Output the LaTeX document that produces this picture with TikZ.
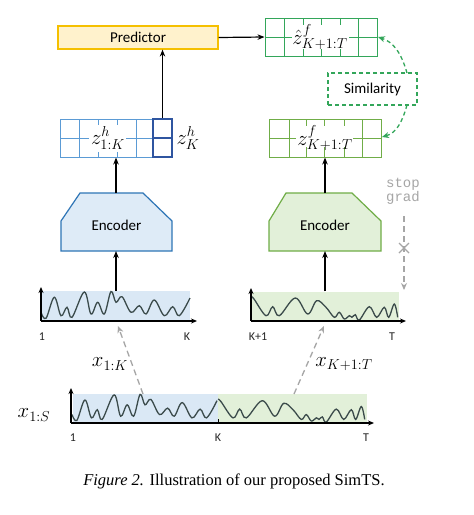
\documentclass[tikz,border=0pt]{standalone}
\usepackage{fontspec}
\setmainfont{Liberation Serif}
\newfontfamily\calib{Carlito}
\newfontfamily\monof{Liberation Mono}
\usetikzlibrary{arrows.meta}
\definecolor{predfill}{HTML}{FFF2CC}
\definecolor{preddraw}{HTML}{F5C000}
\definecolor{bluefill}{HTML}{DEEBF7}
\definecolor{bluedraw}{HTML}{2E75B6}
\definecolor{bluegrid}{HTML}{5B9BD5}
\definecolor{bluedark}{HTML}{2F55A0}
\definecolor{greenfill}{HTML}{E2F0D9}
\definecolor{greendraw}{HTML}{70AD47}
\definecolor{greenhat}{HTML}{33A65A}
\definecolor{panelblue}{HTML}{DAE8F5}
\definecolor{panelgreen}{HTML}{E2F0D9}
\definecolor{wavec}{HTML}{3B4B4B}
\definecolor{grayc}{HTML}{A6A6A6}
\begin{document}
\begin{tikzpicture}[x=1pt,y=-1pt,
  sanslbl/.style={font=\calib\fontsize{15}{18}\selectfont},
  mathlbl/.style={font=\fontsize{20}{24}\selectfont, inner sep=0pt},
  axlbl/.style={font=\calib\fontsize{12}{14}\selectfont, text=black!85, inner sep=0pt},
  arr/.style={-{Stealth[length=7pt,width=5.5pt]}, line width=1.2pt, black},
  grayarr/.style={dash pattern=on 6pt off 4pt, draw=grayc, line width=1.3pt, -{Stealth[length=7pt,width=6pt]}},
  simarr/.style={dash pattern=on 4pt off 3pt, draw=greenhat, line width=1.3pt, -{Stealth[length=7pt,width=6pt]}},
  wave/.style={draw=wavec, line width=1.3pt},
  axisarr/.style={line width=1.3pt, -{Stealth[length=6pt,width=5pt]}},
  whitepatch/.style={fill=white, draw=none},
]
\useasboundingbox (0,0) rectangle (474,515);
\fill[white] (0,0) rectangle (474,515);

% ---------- Predictor ----------
\node[draw=preddraw, fill=predfill, line width=1.2pt, minimum width=160pt, minimum height=23pt, inner sep=0pt, sanslbl] (pred) at (138,37.5) {Predictor};

% ---------- hat z^f grid ----------
\node[draw=greenhat, line width=1pt, minimum width=112pt, minimum height=38pt, inner sep=0pt] (zhat) at (321,37) {};
\foreach \x in {284,303,321,340,358} \draw[greenhat, line width=1pt] (\x,18) -- (\x,56);
\draw[greenhat, line width=1pt] (265,37) -- (377,37);
\fill[whitepatch] (292,25) rectangle (349,49);
\node[mathlbl] (zhatlbl) at (320,37) {$\hat{z}^{f}_{K+1:T}$};

% ---------- Similarity ----------
\node[draw=greenhat, dash pattern=on 4pt off 3pt, line width=1.2pt, minimum width=89pt, minimum height=32pt, inner sep=0pt, sanslbl] (sim) at (372.5,89) {Similarity};
\coordinate (simtop) at (407,73);
\coordinate (simbot) at (407,105);
\coordinate (zhatR) at (378,37);
\coordinate (zfR) at (382,137);
\draw[simarr] (simtop) .. controls (401,52) and (393,42) .. (zhatR);
\draw[simarr] (simbot) .. controls (402,123) and (396,133) .. (zfR);

% ---------- z^h grid ----------
\node[draw=bluegrid, line width=1pt, minimum width=93pt, minimum height=38pt, inner sep=0pt] (zh) at (106.5,138) {};
\foreach \x in {79,98,117,136} \draw[bluegrid, line width=1pt] (\x,119) -- (\x,157);
\draw[bluegrid, line width=1pt] (60,138) -- (153,138);
\fill[whitepatch] (89,125) rectangle (126,152);
\node[mathlbl] (zhlbl) at (108,138) {$z^{h}_{1:K}$};
\node[draw=bluedark, line width=2pt, minimum width=19pt, minimum height=38pt, inner sep=0pt] (zK) at (162.5,138) {};
\draw[bluedark, line width=2pt] (zK.west) -- (zK.east);
\node[mathlbl] (zKlbl) at (188,138) {$z^{h}_{K}$};

% ---------- z^f grid ----------
\node[draw=greendraw, line width=1pt, minimum width=112pt, minimum height=38pt, inner sep=0pt] (zf) at (325,138) {};
\foreach \x in {289,306,324,344,362} \draw[greendraw, line width=1pt] (\x,119) -- (\x,157);
\draw[greendraw, line width=1pt] (269,138) -- (381,138);
\fill[whitepatch] (296,126) rectangle (353,147);
\node[mathlbl] (zflbl) at (325,138) {$z^{f}_{K+1:T}$};

% ---------- Encoders ----------
\filldraw[fill=bluefill, draw=bluedraw, line width=1.2pt] (80,193) -- (143,193) -- (172,221) -- (172,251) -- (61,251) -- (61,221) -- cycle;
\node[sanslbl] (encA) at (116.5,225) {Encoder};
\coordinate (encAtop) at (116,193);
\coordinate (encAbot) at (116,251);
\filldraw[fill=greenfill, draw=greendraw, line width=1.2pt] (286,193) -- (352,193) -- (381,221) -- (381,251) -- (269,251) -- (269,221) -- cycle;
\node[sanslbl] (encB) at (325,225) {Encoder};
\coordinate (encBtop) at (325,193);
\coordinate (encBbot) at (325,251);

% ---------- panels ----------
\node[fill=panelblue, minimum width=148pt, minimum height=30pt, inner sep=0pt] (pB) at (116,306) {};
\node[fill=panelgreen, minimum width=148pt, minimum height=30pt, inner sep=0pt] (pG) at (325,306.5) {};
\node[fill=panelblue, minimum width=145pt, minimum height=29pt, inner sep=0pt] (pBB) at (145.5,408.5) {};
\node[fill=panelgreen, minimum width=149pt, minimum height=29pt, inner sep=0pt] (pBG) at (292.5,408.5) {};

% waves
\def\bluewave{(0,8.7) (5,2.7) (13.3,23.7) (20,5.3) (26,13.7) (31,3.7) (43.3,29) (50,7) (56.7,18.7) (63.3,7) (70,29.5) (75,18.7) (81,24.3) (90,8.7) (98.3,15.3) (105,7) (113.3,21) (123.3,5.3) (131.7,14.3) (138.3,5.3) (149,23)}
\def\greenwave{(0,24.5) (3,22) (15,5.3) (21.7,14.3) (28.3,5.3) (44.3,23) (56.7,7) (65.7,20.3) (75,13.7) (83.3,3.7) (88.3,8.7) (93.3,2) (98.3,5.3) (101,3.7) (104.3,6.3) (108.3,1) (118.3,14.3) (125.7,3.7) (133.3,13.7) (137.7,3.7) (143.3,17) (146.7,3.7)}
\begin{scope}[shift={(41,321)}, yscale=-1]
  \draw[wave] plot[smooth, tension=0.6] coordinates {\bluewave};
\end{scope}
\begin{scope}[shift={(251,321)}, yscale=-1]
  \draw[wave] plot[smooth, tension=0.6] coordinates {\greenwave};
\end{scope}
\begin{scope}[shift={(72,423)}, xscale=0.973, yscale=-0.97]
  \draw[wave] plot[smooth, tension=0.6] coordinates {\bluewave};
\end{scope}
\begin{scope}[shift={(218,423)}, yscale=-0.97]
  \draw[wave] plot[smooth, tension=0.6] coordinates {\greenwave};
\end{scope}

% axes
\coordinate (oB) at (41,321);
\coordinate (oG) at (251,321);
\coordinate (oBB) at (71,423);
\draw[axisarr] (oB) -- (41,287);
\draw[axisarr] (oB) -- (197,321);
\draw[axisarr] (oG) -- (251,288);
\draw[axisarr] (oG) -- (406,321);
\draw[axisarr] (oBB) -- (71,388);
\draw[axisarr] (oBB) -- (374,423);
\draw[line width=1pt] (218,419) -- (218,423);

% axis labels
\node[axlbl] (l1a) at (42,337) {1};
\node[axlbl] (lKa) at (187,337) {K};
\node[axlbl] (lK1) at (258,337) {K+1};
\node[axlbl] (lTa) at (392,337) {T};
\node[axlbl] (l1b) at (73,438) {1};
\node[axlbl] (lKb) at (218,438) {K};
\node[axlbl] (lTb) at (366,438) {T};

% math labels of series
\node[mathlbl] (x1K) at (110,364) {$x_{1:K}$};
\node[mathlbl] (xK1T) at (344,364) {$x_{K+1:T}$};
\node[mathlbl] (x1S) at (34,415) {$x_{1:S}$};

% ---------- connectors ----------
\draw[arr] (zK.north) -- (pred.south -| zK.north);
\draw[arr] (pred.east) -- (zhat.west);
\draw[arr] (encAtop) -- (encAtop |- zh.south);
\draw[arr] (encBtop) -- (encBtop |- zf.south);
\draw[arr] (pB.north -| encAbot) -- (encAbot);
\draw[arr] (pG.north -| encBbot) -- (encBbot);

\coordinate (gA) at (118,326);
\coordinate (gB) at (324,326);
\draw[grayarr] (143,394) -- (gA);
\draw[grayarr] (294,394) -- (gB);

% stop grad
\node[font=\monof\fontsize{14}{16}\selectfont, text=grayc, align=center, inner sep=0pt] (sg) at (403,191) {stop\\[-2pt]grad};
\coordinate (sgend) at (404,290);
\draw[grayarr] (404,216) -- (sgend);
\draw[grayc, line width=1.2pt] (399,243) -- (409,253) (409,243) -- (399,253);

% caption
\node[font=\fontsize{16.5}{19}\selectfont, inner sep=0pt] (cap) at (234,481) {\textit{Figure 2.} Illustration of our proposed SimTS.};
\end{tikzpicture}
\end{document}
